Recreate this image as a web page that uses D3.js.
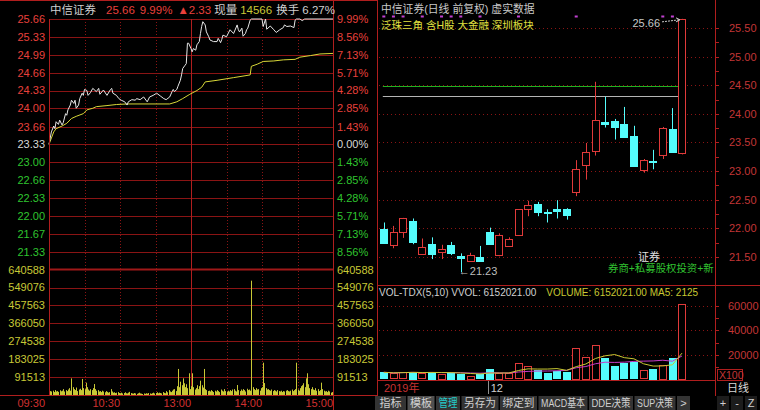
<!DOCTYPE html>
<html><head><meta charset="utf-8">
<script src="https://cdn.jsdelivr.net/npm/d3@7"></script>
<style>
html,body{margin:0;padding:0;background:#000;overflow:hidden;}
svg{display:block;}
text{font-family:"Liberation Sans","Noto Sans CJK SC",sans-serif;}
</style></head><body>
<svg id="c" width="760" height="410"></svg>
<script>
// ---------------- DATA ----------------
const prevClose = 23.33;
const leftPriceTicks = [25.66,25.33,24.99,24.66,24.33,24.00,23.66,23.33,23.00,22.66,22.33,22.00,21.67,21.33];
const leftPctLabels = ["9.99%","8.56%","7.13%","5.71%","4.28%","2.85%","1.43%","0.00%","1.43%","2.85%","4.28%","5.71%","7.13%","8.56%"];
const leftVolTicks = [640588,549076,457563,366050,274538,183025,91513];
const timeLabels = ["09:30","10:30","13:00","14:00","15:00"];
const timeLabelMin = [0,60,120,180,240];
const gridMin = [30,60,90,120,150,180,210];

const priceMin = [0,2,4,5,6,8,9,11,12,14,15,16,18,19,21,22,23,25,26,28,29,30,32,33,35,37,40,42,43,46,49,52,53,54,57,59,61,64,66,67,70,73,74,77,80,83,85,88,91,94,97,99,102,104,105,106,108,109,111,112,113,115,116,117,118,120,121,122,124,125,127,128,129,130,132,133,135,136,139,142,143,145,146,147,150,153,156,159,160,161,163,164,166,167,168,170,171,180,181,183,184,187,190,192,195,198,199,201,204,207,208,209,212,214,216,240];
const priceVal = [23.33,23.56,23.67,23.62,23.75,23.70,23.78,23.69,23.73,23.90,23.87,23.97,24.06,24.15,24.09,24.15,24.00,24.06,24.18,24.28,24.24,24.35,24.33,24.24,24.29,24.37,24.31,24.37,24.26,24.34,24.24,24.35,24.37,24.28,24.24,24.18,24.15,24.12,24.06,24.12,24.16,24.15,24.18,24.16,24.21,24.12,24.21,24.24,24.28,24.23,24.18,24.16,24.21,24.31,24.35,24.31,24.35,24.41,24.52,24.62,24.74,24.80,24.83,25.21,25.21,25.11,25.05,25.11,25.08,25.18,25.24,25.39,25.52,25.61,25.55,25.42,25.33,25.27,25.24,25.24,25.30,25.22,25.28,25.36,25.33,25.46,25.39,25.55,25.46,25.42,25.49,25.34,25.39,25.46,25.49,25.64,25.66,25.66,25.52,25.66,25.47,25.53,25.46,25.41,25.46,25.50,25.55,25.52,25.53,25.50,25.64,25.66,25.66,25.63,25.66,25.66];
const avgMin = [0,4,6,11,15,19,23,29,32,37,40,49,57,66,102,108,113,119,125,129,132,142,156,170,171,176,181,190,198,208,212,221,229,240];
const avgVal = [23.33,23.56,23.62,23.67,23.72,23.81,23.85,23.90,23.97,24.00,24.03,24.05,24.07,24.08,24.08,24.12,24.18,24.26,24.33,24.39,24.49,24.52,24.57,24.62,24.78,24.82,24.87,24.88,24.90,24.91,24.95,24.98,25.01,25.02];
// per-minute volume, thousands
const minuteVolK = [46,
20,18,22,15,25,18,20,16,24,19,
22,30,18,25,20,28,35,22,85,40,
30,25,38,20,28,32,25,82,35,30,
63,40,28,22,30,25,35,56,30,22,
25,18,20,15,22,18,14,20,16,12,
15,30,18,12,14,10,12,15,10,9,
12,8,10,14,9,8,12,16,10,8,
7,10,8,6,9,12,8,7,5,8,
6,9,7,10,8,6,9,12,8,10,
14,9,12,10,8,15,11,9,20,14,
25,18,15,22,28,30,20,45,133,40,
68,50,85,60,40,55,35,111,30,45,
111,40,28,35,50,30,45,73,50,38,
133,30,25,20,22,18,25,20,15,22,
18,25,20,15,28,22,18,30,20,16,
22,18,25,20,28,30,22,18,51,25,
20,28,22,30,25,18,32,25,28,22,
584,40,30,25,35,28,30,22,35,40,
165,61,35,28,30,25,22,28,20,25,
22,18,25,20,18,22,15,20,18,22,
25,20,18,22,28,20,25,30,165,28,
22,35,45,50,60,40,85,111,55,35,
30,40,28,25,35,22,30,20,25,63,
30,22,18,20,15,22,18,12,15,20];

// daily candles
const dayOpen  = [21.98,21.72,21.93,22.13,21.55,21.72,21.59,21.71,21.51,21.43,21.50,21.93,21.53,21.69,21.88,22.34,22.43,22.28,22.33,22.34,22.63,23.12,23.34,23.86,23.87,23.83,23.62,23.03,23.18,23.28,23.73,23.31];
const dayHigh  = [22.10,22.04,22.18,22.17,21.82,21.84,21.71,21.76,21.56,21.57,21.69,22.01,21.91,21.84,22.33,22.48,22.46,22.33,22.49,22.35,23.19,23.49,24.56,24.30,23.91,24.12,23.79,23.21,23.37,23.77,24.10,25.66];
const dayLow   = [21.73,21.65,21.83,21.72,21.54,21.46,21.46,21.53,21.23,21.43,21.42,21.71,21.51,21.68,21.87,22.21,22.21,22.10,22.17,22.15,22.56,22.85,23.27,23.76,23.55,23.59,23.08,22.97,23.03,23.21,23.33,23.29];
const dayClose = [21.74,21.94,22.17,21.76,21.67,21.54,21.64,21.57,21.48,21.54,21.43,21.72,21.88,21.81,22.33,22.41,22.29,22.27,22.29,22.24,23.03,23.34,23.89,23.82,23.77,23.60,23.09,23.20,23.17,23.76,23.33,25.66];
const dayVol   = [5850,5040,5850,6500,5040,6230,4770,5580,4770,3150,4230,8560,5580,5040,13170,10980,7720,5560,6910,6100,25860,18560,28050,17750,11250,13150,13960,7720,8540,11790,17750,61520];
const markDays = [0,1,2,4,6,7,8,10,14,20,29,30];
const levelLines = [24.49,24.31];
const rightPriceTicks = [25.5,25.0,24.5,24.0,23.5,23.0,22.5,22.0,21.5];
const rightPriceMinor = [25.25,24.75,24.25,23.75,23.25,22.75,22.25,21.75];
const rightVolTicks = [60000,40000,20000];
const rightVolMinor = [50000,30000,10000];
const toolbarLabels = ["指标","模板","管理","另存为","绑定到","MACD基本","DDE决策","SUP决策",">"];

// ---------------- COLORS / LAYOUT ----------------
const C = {
  grid:"#8a1414", frame:"#b01e1e", up:"#e8413c", down:"#2fc42f", flat:"#d8d8d8",
  vol:"#c8c836", cyan:"#54fcfc", red:"#e03a3a", axisR:"#c23636", white:"#d4d4d4",
  yellow:"#e0e040", purple:"#c040d0"
};
const toolbarWidths = [31,27,24,37,37,49,44,41,13];

const svg = d3.select("#c");
svg.append("rect").attr("width",760).attr("height",410).attr("fill","#000");

// ================= LEFT PANEL =================
const xT = d3.scaleLinear().domain([0,240]).range([49,333]);
const yP = d3.scaleLinear().domain([prevClose-(leftPriceTicks[0]-prevClose), leftPriceTicks[0]]).range([269.6,19]);
const yV = d3.scaleLinear().domain([0,leftVolTicks[0]]).range([395,269.6]);
const L = svg.append("g");
const px = v => Math.round(v)+0.5;

L.selectAll("line.hp").data(leftPriceTicks).join("line")
  .attr("x1",49).attr("x2",333).attr("y1",d=>px(yP(d))).attr("y2",d=>px(yP(d)))
  .attr("stroke",C.grid).attr("stroke-width",1);
L.selectAll("line.hv").data(leftVolTicks.slice(1)).join("line")
  .attr("x1",49).attr("x2",333).attr("y1",d=>px(yV(d))).attr("y2",d=>px(yV(d)))
  .attr("stroke",C.grid).attr("stroke-width",1);
L.append("line").attr("x1",49).attr("x2",333).attr("y1",yV(leftVolTicks[0])).attr("y2",yV(leftVolTicks[0]))
  .attr("stroke","#a01818").attr("stroke-width",2);
L.selectAll("line.vg").data(gridMin).join("line")
  .attr("x1",d=>px(xT(d))).attr("x2",d=>px(xT(d))).attr("y1",19).attr("y2",395)
  .attr("stroke",d=>d===120?C.frame:C.grid).attr("stroke-dasharray",d=>d===120?null:"1,2");

L.selectAll("line.vb").data(minuteVolK).join("line")
  .attr("x1",(d,i)=>px(xT(i))).attr("x2",(d,i)=>px(xT(i)))
  .attr("y1",yV(0)).attr("y2",d=>yV(d*1000))
  .attr("stroke",C.vol).attr("stroke-width",1);

const lineP = d3.line().x(d=>xT(d[0])).y(d=>yP(d[1]));
L.append("path").datum(d3.zip(avgMin,avgVal)).attr("d",lineP)
  .attr("fill","none").attr("stroke","#d8d838").attr("stroke-width",1);
L.append("path").datum(d3.zip(priceMin,priceVal)).attr("d",lineP)
  .attr("fill","none").attr("stroke","#e6e6e6").attr("stroke-width",1);

L.append("line").attr("x1",0).attr("x2",377).attr("y1",0.5).attr("y2",0.5).attr("stroke",C.frame);
L.append("line").attr("x1",49.5).attr("x2",49.5).attr("y1",19).attr("y2",396).attr("stroke",C.frame);
L.append("line").attr("x1",333.5).attr("x2",333.5).attr("y1",0).attr("y2",410).attr("stroke",C.frame);
L.append("line").attr("x1",0).attr("x2",377).attr("y1",395.5).attr("y2",395.5).attr("stroke",C.frame);
L.append("line").attr("x1",377.5).attr("x2",377.5).attr("y1",0).attr("y2",396).attr("stroke",C.frame);

const colorFor = v => Math.abs(v-prevClose)<0.001 ? C.flat : (v>prevClose?C.up:C.down);
L.selectAll("text.lp").data(leftPriceTicks).join("text")
  .attr("x",45).attr("y",d=>yP(d)).attr("dy","0.36em").attr("text-anchor","end")
  .attr("font-size",11).attr("fill",colorFor).text(d=>d.toFixed(2));
L.selectAll("text.rp").data(leftPriceTicks).join("text")
  .attr("x",337).attr("y",d=>yP(d)).attr("dy","0.36em")
  .attr("font-size",11).attr("fill",colorFor).text((d,i)=>leftPctLabels[i]);
L.selectAll("text.lv").data(leftVolTicks).join("text")
  .attr("x",45).attr("y",d=>yV(d)).attr("dy","0.36em").attr("text-anchor","end")
  .attr("font-size",11).attr("fill",C.vol).text(d=>d);
L.selectAll("text.rv").data(leftVolTicks).join("text")
  .attr("x",337).attr("y",d=>yV(d)).attr("dy","0.36em")
  .attr("font-size",11).attr("fill",C.vol).text(d=>d);
L.selectAll("text.tl").data(timeLabels).join("text")
  .attr("x",(d,i)=>xT(timeLabelMin[i])-(i===0?4:0)).attr("y",403).attr("dy","0.36em")
  .attr("text-anchor","end").attr("font-size",11).attr("fill","#d03030").text(d=>d);

const hdr = L.append("text").attr("x",50).attr("y",10).attr("dy","0.36em").attr("font-size",11.5);
hdr.append("tspan").attr("fill","#cfcfcf").text("中信证券");
hdr.append("tspan").attr("dx",10).attr("fill",C.up).text("25.66");
hdr.append("tspan").attr("dx",5).attr("fill",C.up).text("9.99%");
hdr.append("tspan").attr("dx",5).attr("fill",C.up).text("▲2.33");
hdr.append("tspan").attr("dx",3).attr("fill","#cfcfcf").text("现量");
hdr.append("tspan").attr("dx",3).attr("fill",C.vol).text("14566");
hdr.append("tspan").attr("dx",4).attr("fill","#cfcfcf").text("换手 6.27%");

// ================= RIGHT PANEL =================
const xD = d3.scaleBand().domain(d3.range(35)).range([379,715.7]).paddingInner(0.2).paddingOuter(0.1);
const xc = i => xD(i)+xD.bandwidth()/2;
const yR = d3.scaleLinear().domain([21.5,25.5]).range([256.8,28]);
const yRV = d3.scaleLinear().domain([0,60000]).range([379.5,305.7]);
const R = svg.append("g");
const days = d3.range(dayOpen.length).map(i=>({i,o:dayOpen[i],h:dayHigh[i],l:dayLow[i],c:dayClose[i],v:dayVol[i],up:dayClose[i]>=dayOpen[i]}));

R.selectAll("line.rg").data(rightPriceTicks).join("line")
  .attr("x1",379).attr("x2",715).attr("y1",d=>px(yR(d))).attr("y2",d=>px(yR(d)))
  .attr("stroke",C.grid).attr("stroke-dasharray","1,3");
R.selectAll("line.rvg").data(rightVolTicks).join("line")
  .attr("x1",379).attr("x2",715).attr("y1",d=>px(yRV(d))).attr("y2",d=>px(yRV(d)))
  .attr("stroke",C.grid).attr("stroke-dasharray","1,3");

R.selectAll("line.lvl").data(levelLines).join("line")
  .attr("x1",xc(0)-1).attr("x2",xc(31)-1).attr("y1",d=>px(yR(d))).attr("y2",d=>px(yR(d)))
  .attr("stroke",(d,i)=>i===0?"#22b022":"#b4b4b4");

const cg = R.selectAll("g.cd").data(days).join("g");
cg.append("line").attr("x1",d=>px(xc(d.i))).attr("x2",d=>px(xc(d.i)))
  .attr("y1",d=>yR(d.h)).attr("y2",d=>yR(d.l))
  .attr("stroke",d=>d.up?C.red:C.cyan);
cg.append("rect")
  .attr("x",d=>Math.round(xD(d.i))+0.5).attr("width",Math.round(xD.bandwidth())-1)
  .attr("y",d=>Math.round(yR(Math.max(d.o,d.c)))+0.5)
  .attr("height",d=>Math.max(1,Math.round(Math.abs(yR(d.o)-yR(d.c)))))
  .attr("fill",d=>d.up?"#000":C.cyan).attr("stroke",d=>d.up?C.red:C.cyan);

R.selectAll("rect.dv").data(days).join("rect")
  .attr("x",d=>Math.round(xD(d.i))+0.5).attr("width",Math.round(xD.bandwidth())-1)
  .attr("y",d=>Math.round(yRV(d.v))+0.5).attr("height",d=>Math.round(yRV(0)-yRV(d.v))-1)
  .attr("fill",d=>d.up?"#000":C.cyan).attr("stroke",d=>d.up?C.red:C.cyan);

const ma = n => dayVol.map((v,i)=>d3.mean(dayVol.slice(Math.max(0,i-n+1),i+1)));
const lineV = d3.line().x((d,i)=>xc(i)).y(d=>yRV(d));
R.append("path").datum(ma(10)).attr("d",lineV).attr("fill","none").attr("stroke","#c83cc8");
R.append("path").datum(ma(5)).attr("d",lineV).attr("fill","none").attr("stroke","#c8c832");

R.selectAll("rect.pm").data(markDays).join("rect")
  .attr("x",d=>xc(d)-1.5).attr("y",15.5).attr("width",3).attr("height",2).attr("fill",C.purple);

R.append("text").attr("x",xc(31)-22).attr("y",yR(25.66)+4).attr("dy","0.36em").attr("text-anchor","end")
  .attr("font-size",11).attr("fill","#c8c8c8").text("25.66");
R.append("line").attr("x1",xc(31)-20).attr("x2",xc(31)-3).attr("y1",yR(25.66)+3).attr("y2",yR(25.66)+1)
  .attr("stroke","#c8c8c8").attr("stroke-dasharray","2,1");
R.append("path").attr("d",`M${xc(31)-6},${yR(25.66)-1}L${xc(31)-2},${yR(25.66)+1}L${xc(31)-6},${yR(25.66)+3}`)
  .attr("fill","none").attr("stroke","#c8c8c8");
R.append("text").attr("x",xc(8)-2).attr("y",yR(21.23)-1).attr("dy","0.36em")
  .attr("font-size",11).attr("fill","#bdbdbd").text("←21.23");

R.append("text").attr("x",381).attr("y",9).attr("dy","0.36em").attr("font-size",10.8).attr("fill","#c8c8c8")
  .text("中信证券(日线 前复权) 虚实数据");
R.append("text").attr("x",381).attr("y",25).attr("dy","0.36em").attr("font-size",10.5).attr("fill",C.yellow)
  .text("泛珠三角 含H股 大金融 深圳板块");
R.append("text").attr("x",638).attr("y",257.5).attr("dy","0.36em").attr("font-size",11).attr("fill","#e0e0e0").text("证券");
svg.append("clipPath").attr("id","clipR").append("rect").attr("x",377).attr("y",0).attr("width",338.5).attr("height",410);
R.append("text").attr("clip-path","url(#clipR)").attr("x",608).attr("y",268).attr("dy","0.36em").attr("font-size",10.4)
  .attr("fill","#30c030").text("券商+私募股权投资+新");
const vl = R.append("text").attr("clip-path","url(#clipR)").attr("x",379).attr("y",292.5).attr("dy","0.36em").attr("font-size",10);
vl.append("tspan").attr("fill","#d0d0d0").text("VOL-TDX(5,10) VVOL: 6152021.00");
vl.append("tspan").attr("dx",10).attr("fill","#c8c832").text("VOLUME: 6152021.00 MA5: 2125");

R.append("line").attr("x1",715.5).attr("x2",715.5).attr("y1",0).attr("y2",396).attr("stroke",C.frame);
R.append("line").attr("x1",377).attr("x2",760).attr("y1",285.5).attr("y2",285.5).attr("stroke",C.frame);
R.append("line").attr("x1",377).attr("x2",715).attr("y1",380.5).attr("y2",380.5).attr("stroke",C.frame);
R.selectAll("line.tk").data(rightPriceTicks.concat(rightPriceMinor)).join("line")
  .attr("x1",716).attr("x2",719).attr("y1",d=>px(yR(d))).attr("y2",d=>px(yR(d))).attr("stroke",C.frame);
R.selectAll("line.tkv").data(rightVolTicks.concat(rightVolMinor)).join("line")
  .attr("x1",716).attr("x2",719).attr("y1",d=>px(yRV(d))).attr("y2",d=>px(yRV(d))).attr("stroke",C.frame);
R.selectAll("text.rpt").data(rightPriceTicks).join("text")
  .attr("x",729).attr("y",d=>yR(d)).attr("dy","0.36em").attr("font-size",11).attr("fill",C.axisR).text(d=>d.toFixed(2));
R.selectAll("text.rvt").data(rightVolTicks).join("text")
  .attr("x",728).attr("y",d=>yRV(d)).attr("dy","0.36em").attr("font-size",11).attr("fill",C.axisR).text(d=>d);
R.append("rect").attr("x",717.5).attr("y",369.5).attr("width",25).attr("height",11).attr("fill","none").attr("stroke",C.frame);
R.append("text").attr("x",719).attr("y",375).attr("dy","0.36em").attr("font-size",10.5).attr("fill",C.axisR).text("X100");

R.append("text").attr("x",384).attr("y",388.5).attr("dy","0.36em").attr("font-size",11).attr("fill","#c83232").text("2019年");
R.append("line").attr("x1",px(xc(11))-2).attr("x2",px(xc(11))-2).attr("y1",381).attr("y2",394).attr("stroke","#909090");
R.append("text").attr("x",xc(11)+1).attr("y",388.5).attr("dy","0.36em").attr("font-size",11).attr("fill","#d0d0d0").text("12");
R.append("text").attr("x",727).attr("y",388.5).attr("dy","0.36em").attr("font-size",11).attr("fill","#d8d8d8").text("日线");

// toolbar
const tb = R.append("g");
let tx = 375;
toolbarLabels.forEach((lab,i)=>{
  const w = toolbarWidths[i];
  tb.append("rect").attr("x",tx).attr("y",396).attr("width",w).attr("height",14)
    .attr("fill",i===1?"#505050":"#343434");
  const t = tb.append("text").attr("x",tx+w/2).attr("y",403.5).attr("dy","0.36em").attr("text-anchor","middle")
    .attr("font-size",11).attr("fill",i===2?"#24cccc":"#d0d0d0").text(lab);
  const nat = t.node().getComputedTextLength();
  if (nat > w-5) t.attr("textLength",w-5).attr("lengthAdjust","spacingAndGlyphs");
  tx += w+1.5;
});
["+","-","Z"].forEach((s,i)=>{
  tb.append("rect").attr("x",717+i*14).attr("y",396).attr("width",12).attr("height",14).attr("fill","#1c1c1c");
  tb.append("text").attr("x",723+i*14).attr("y",403.5).attr("dy","0.36em").attr("text-anchor","middle")
    .attr("font-size",11).attr("fill","#d0d0d0").text(s);
});
</script>
</body></html>
